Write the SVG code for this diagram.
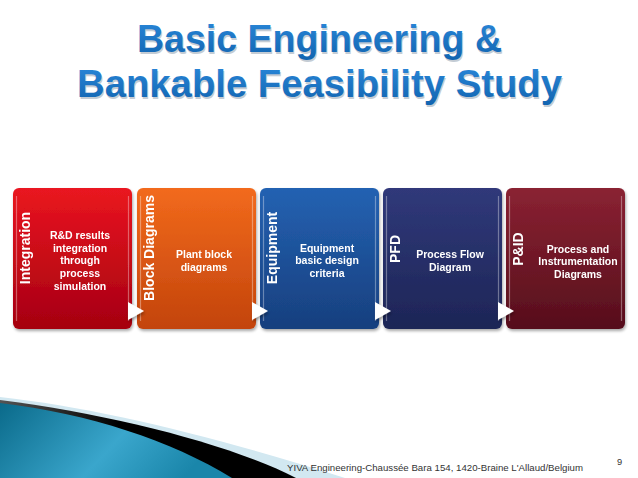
<svg xmlns="http://www.w3.org/2000/svg" width="638" height="478" viewBox="0 0 638 478">
<defs>
<style>
.title{font-family:"Liberation Sans",Arial,sans-serif;font-weight:bold;font-size:38px;}
.lab{font-family:"Liberation Sans",Arial,sans-serif;font-weight:bold;font-size:14px;fill:#ffffff;text-anchor:middle;}
.body{font-family:"Liberation Sans",Arial,sans-serif;font-weight:bold;font-size:10.5px;fill:#ffffff;text-anchor:middle;}
.foot{font-family:"Liberation Sans",Arial,sans-serif;font-size:9.3px;fill:#333333;}
.gl{stroke:#ffffff;stroke-opacity:0.35;stroke-width:1.2;}
.arr{fill:#ffffff;}
</style>
<linearGradient id="gT" x1="0" y1="0" x2="0" y2="1"><stop offset="0" stop-color="#2a88da"/><stop offset="1" stop-color="#1164b0"/></linearGradient>
<linearGradient id="g1" x1="0" y1="0" x2="0" y2="1"><stop offset="0" stop-color="#ea1520"/><stop offset="1" stop-color="#a50010"/></linearGradient>
<linearGradient id="g2" x1="0" y1="0" x2="0" y2="1"><stop offset="0" stop-color="#f26a1c"/><stop offset="1" stop-color="#c3440c"/></linearGradient>
<linearGradient id="g3" x1="0" y1="0" x2="0" y2="1"><stop offset="0" stop-color="#2462b2"/><stop offset="1" stop-color="#173f7e"/></linearGradient>
<linearGradient id="g4" x1="0" y1="0" x2="0" y2="1"><stop offset="0" stop-color="#30397a"/><stop offset="1" stop-color="#1d2556"/></linearGradient>
<linearGradient id="g5" x1="0" y1="0" x2="0" y2="1"><stop offset="0" stop-color="#8a2232"/><stop offset="1" stop-color="#560e1c"/></linearGradient>
<linearGradient id="gB" x1="0" y1="0" x2="1" y2="0.3"><stop offset="0" stop-color="#0a6a8a"/><stop offset="0.6" stop-color="#3aa6cc"/><stop offset="1" stop-color="#1a86aa"/></linearGradient>
<linearGradient id="gK" x1="0" y1="0" x2="1" y2="0"><stop offset="0" stop-color="#555555"/><stop offset="0.4" stop-color="#000000"/><stop offset="1" stop-color="#000000"/></linearGradient>
<filter id="sh" x="-10%" y="-10%" width="120%" height="125%"><feGaussianBlur in="SourceAlpha" stdDeviation="1.5"/><feOffset dx="1" dy="2" result="b"/><feComponentTransfer><feFuncA type="linear" slope="0.35"/></feComponentTransfer><feMerge><feMergeNode/><feMergeNode in="SourceGraphic"/></feMerge></filter>
</defs>
<rect width="638" height="478" fill="#ffffff"/>

<g id="title">
<text class="title" x="138" y="53.5" fill="#c4ccd4" textLength="365" lengthAdjust="spacingAndGlyphs">Basic Engineering &amp;</text>
<text class="title" x="137" y="52" fill="url(#gT)" textLength="365" lengthAdjust="spacingAndGlyphs">Basic Engineering &amp;</text>
<text class="title" x="78" y="98.5" fill="#c4ccd4" textLength="485" lengthAdjust="spacingAndGlyphs">Bankable Feasibility Study</text>
<text class="title" x="77" y="97" fill="url(#gT)" textLength="485" lengthAdjust="spacingAndGlyphs">Bankable Feasibility Study</text>
</g>

<g id="swoosh">
<path d="M0,397 C100,408 220,438 345,478 L0,478 Z" fill="#d2e8f1"/>
<path d="M0,400 C110,414 230,444 296,478 L0,478 Z" fill="url(#gK)"/>
<path d="M0,403 C90,414 170,440 232,478 L0,478 Z" fill="url(#gB)"/>
</g>

<g id="node1" filter="url(#sh)">
<rect x="13" y="188" width="119" height="141" rx="6" fill="url(#g1)"/>
<line class="gl" x1="16.5" y1="196" x2="16.5" y2="321"/><line class="gl" x1="128.5" y1="196" x2="128.5" y2="321"/>
<text class="lab" transform="translate(30,248) rotate(-90)">Integration</text>
<text class="body" x="80" y="239">R&amp;D results</text>
<text class="body" x="80" y="251.7">integration</text>
<text class="body" x="80" y="264.4">through</text>
<text class="body" x="80" y="277.1">process</text>
<text class="body" x="80" y="289.8">simulation</text>
</g>

<g id="node2" filter="url(#sh)">
<rect x="137" y="188" width="119" height="141" rx="6" fill="url(#g2)"/>
<line class="gl" x1="140.5" y1="196" x2="140.5" y2="321"/><line class="gl" x1="252.5" y1="196" x2="252.5" y2="321"/>
<text class="lab" transform="translate(154,248) rotate(-90)">Block Diagrams</text>
<text class="body" x="204" y="258">Plant block</text>
<text class="body" x="204" y="270.7">diagrams</text>
</g>

<g id="node3" filter="url(#sh)">
<rect x="260" y="188" width="119" height="141" rx="6" fill="url(#g3)"/>
<line class="gl" x1="263.5" y1="196" x2="263.5" y2="321"/><line class="gl" x1="375.5" y1="196" x2="375.5" y2="321"/>
<text class="lab" transform="translate(277,248) rotate(-90)">Equipment</text>
<text class="body" x="327" y="251.5">Equipment</text>
<text class="body" x="327" y="264.2">basic design</text>
<text class="body" x="327" y="276.9">criteria</text>
</g>

<g id="node4" filter="url(#sh)">
<rect x="383" y="188" width="119" height="141" rx="6" fill="url(#g4)"/>
<line class="gl" x1="386.5" y1="196" x2="386.5" y2="321"/><line class="gl" x1="498.5" y1="196" x2="498.5" y2="321"/>
<text class="lab" transform="translate(400,249) rotate(-90)">PFD</text>
<text class="body" x="450" y="258">Process Flow</text>
<text class="body" x="450" y="270.7">Diagram</text>
</g>

<g id="node5" filter="url(#sh)">
<rect x="506" y="188" width="119" height="141" rx="6" fill="url(#g5)"/>
<line class="gl" x1="509.5" y1="196" x2="509.5" y2="321"/><line class="gl" x1="621.5" y1="196" x2="621.5" y2="321"/>
<text class="lab" transform="translate(523,249) rotate(-90)">P&amp;ID</text>
<text class="body" x="578" y="252.5">Process and</text>
<text class="body" x="578" y="265.2">Instrumentation</text>
<text class="body" x="578" y="277.9">Diagrams</text>
</g>

<g id="connectors" filter="url(#sh)">
<polygon class="arr" points="128,302 144,311 128,320"/>
<polygon class="arr" points="252,302 268,311 252,320"/>
<polygon class="arr" points="375,302 391,311 375,320"/>
<polygon class="arr" points="498,302 514,311 498,320"/>
</g>

<g id="footer">
<text class="foot" x="287" y="471" textLength="296" lengthAdjust="spacingAndGlyphs">YIVA Engineering-Chaussée Bara 154, 1420-Braine L'Allaud/Belgium</text>
<text class="foot" x="617" y="465">9</text>
</g>
</svg>
